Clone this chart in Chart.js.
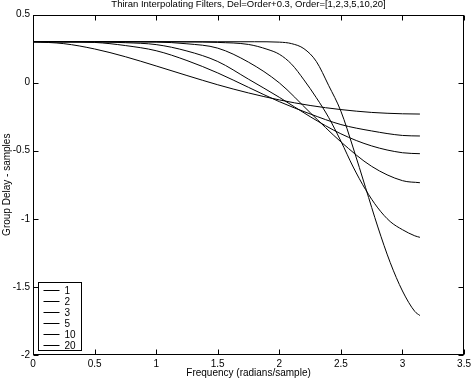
<!DOCTYPE html>
<html><head><meta charset="utf-8">
<script src="https://cdn.jsdelivr.net/npm/chart.js@4"></script>
<style>html,body{margin:0;padding:0;background:#fff}</style></head><body>
<canvas id="c" width="474" height="382" style="width:474px;height:382px"></canvas>
<script>
const titleText = 'Thiran Interpolating Filters, Del=Order+0.3, Order=[1,2,3,5,10,20]';
const xTitle = 'Frequency (radians/sample)';
const yTitle = 'Group Delay - samples';
const seriesLabels = ['1', '2', '3', '5', '10', '20'];

const order1X = [0, 0.25, 0.5, 0.75, 1, 1.25, 1.5, 1.75, 2, 2.25, 2.5, 2.75, 3, 3.1416];
const order1Y = [0.3, 0.286, 0.247, 0.190, 0.122, 0.052, -0.016, -0.076, -0.127, -0.168, -0.198, -0.219, -0.229, -0.231];

const order2X = [0, 0.25, 0.5, 0.75, 1, 1.25, 1.5, 1.75, 2, 2.25, 2.5, 2.75, 3, 3.1416];
const order2Y = [0.3, 0.299, 0.295, 0.272, 0.234, 0.162, 0.071, -0.035, -0.140, -0.230, -0.308, -0.355, -0.388, -0.392];

const order3X = [0, 0.25, 0.5, 0.75, 1, 1.25, 1.5, 1.75, 2, 2.25, 2.5, 2.75, 3, 3.1416];
const order3Y = [0.3, 0.3, 0.2995, 0.293, 0.279, 0.232, 0.155, 0.025, -0.108, -0.250, -0.376, -0.465, -0.515, -0.522];

const order5X = [0, 0.5, 0.75, 1, 1.25, 1.5, 1.75, 2, 2.25, 2.5, 2.75, 3, 3.1416];
const order5Y = [0.3, 0.3, 0.2998, 0.298, 0.285, 0.253, 0.150, -0.002, -0.220, -0.435, -0.615, -0.720, -0.735];

const order10X = [0, 0.5, 1, 1.25, 1.5, 1.75, 1.9, 2.0, 2.1, 2.2, 2.3, 2.4, 2.5, 2.6, 2.7, 2.8, 2.9, 3.0, 3.1, 3.1416];
const order10Y = [0.3, 0.3, 0.3, 0.299, 0.295, 0.280, 0.245, 0.208, 0.135, 0.020, -0.110, -0.255, -0.430, -0.620, -0.785, -0.920, -1.020, -1.080, -1.125, -1.136];

const order20X = [0, 0.5, 1, 1.5, 1.8, 2.0, 2.1, 2.2, 2.3, 2.4, 2.5, 2.6, 2.7, 2.8, 2.9, 3.0, 3.1, 3.1416];
const order20Y = [0.3, 0.3, 0.3, 0.3, 0.3, 0.297, 0.286, 0.249, 0.156, -0.020, -0.210, -0.480, -0.770, -1.060, -1.320, -1.530, -1.680, -1.710];

const xTicksStep = 0.5, yTicksStep = 0.5;
const FONT = "'Liberation Sans', Arial, Helvetica, sans-serif";

const allX = [order1X, order2X, order3X, order5X, order10X, order20X];
const allY = [order1Y, order2Y, order3Y, order5Y, order10Y, order20Y];

const datasets = seriesLabels.map((lab, i) => ({
  label: lab,
  data: allX[i].map((x, j) => ({ x: x, y: allY[i][j] })),
  borderColor: '#000',
  borderWidth: 1,
  pointRadius: 0,
  fill: false,
  cubicInterpolationMode: 'monotone'
}));

const fmt = v => String(Math.round(v * 100) / 100);

const framePlugin = {
  id: 'frame',
  afterDraw(chart) {
    const { ctx, chartArea: a, scales } = chart;
    ctx.save();
    ctx.strokeStyle = '#000';
    ctx.lineWidth = 1;
    const L = Math.round(a.left) + 0.5, R = Math.round(a.right) - 0.5;
    const T = Math.round(a.top) + 0.5, B = Math.round(a.bottom) - 0.5;
    ctx.strokeRect(L, T, R - L, B - T);
    const tl = 5;
    ctx.beginPath();
    scales.x.ticks.forEach(t => {
      const px = Math.round(scales.x.getPixelForValue(t.value)) + 0.5;
      ctx.moveTo(px, B); ctx.lineTo(px, B - tl);
      ctx.moveTo(px, T); ctx.lineTo(px, T + tl);
    });
    scales.y.ticks.forEach(t => {
      const py = Math.round(scales.y.getPixelForValue(t.value)) + 0.5;
      ctx.moveTo(L, py); ctx.lineTo(L + tl, py);
      ctx.moveTo(R, py); ctx.lineTo(R - tl, py);
    });
    ctx.stroke();

    // legend
    const lx = 38.5, ly = 282.5, lw = 43, lh = 68;
    ctx.fillStyle = '#fff';
    ctx.fillRect(lx, ly, lw, lh);
    ctx.strokeRect(lx, ly, lw, lh);
    ctx.font = '10px ' + FONT;
    ctx.fillStyle = '#000';
    ctx.textBaseline = 'middle';
    ctx.textAlign = 'left';
    chart.data.datasets.forEach((ds, i) => {
      const y = Math.round(ly + 7 + i * 11.1) + 0.5;
      ctx.beginPath();
      ctx.moveTo(lx + 5, y); ctx.lineTo(lx + 21, y);
      ctx.stroke();
      ctx.fillText(ds.label, lx + 26, y + 0.5);
    });
    ctx.restore();
  }
};

new Chart(document.getElementById('c'), {
  type: 'line',
  data: { datasets: datasets },
  options: {
    responsive: false,
    animation: false,
    devicePixelRatio: 1,
    layout: { padding: { top: 0, right: 7, left: 0, bottom: 0 } },
    plugins: {
      legend: { display: false },
      tooltip: { enabled: false },
      title: {
        display: true, text: titleText, color: '#000', fullSize: false,
        font: { family: FONT, size: 9.5, weight: 'normal', lineHeight: 1 },
        padding: { top: 0, bottom: 5 }
      }
    },
    scales: {
      x: {
        type: 'linear', min: 0, max: 3.5,
        ticks: { stepSize: xTicksStep, color: '#000', font: { family: FONT, size: 10 }, padding: 3, maxRotation: 0, callback: fmt },
        grid: { display: false, drawTicks: false },
        border: { display: false },
        title: { display: true, text: xTitle, color: '#000', font: { family: FONT, size: 10 }, padding: { top: 0, bottom: 3 } },
        afterFit(s) { s.height = 27; }
      },
      y: {
        type: 'linear', min: -2, max: 0.5,
        ticks: { stepSize: yTicksStep, color: '#000', font: { family: FONT, size: 10 }, padding: 3, callback: fmt },
        grid: { display: false, drawTicks: false },
        border: { display: false },
        title: { display: true, text: yTitle, color: '#000', font: { family: FONT, size: 10 }, padding: { top: 1, bottom: 0 } },
        afterFit(s) { s.width = 33; }
      }
    }
  },
  plugins: [framePlugin]
});
</script>
</body></html>
